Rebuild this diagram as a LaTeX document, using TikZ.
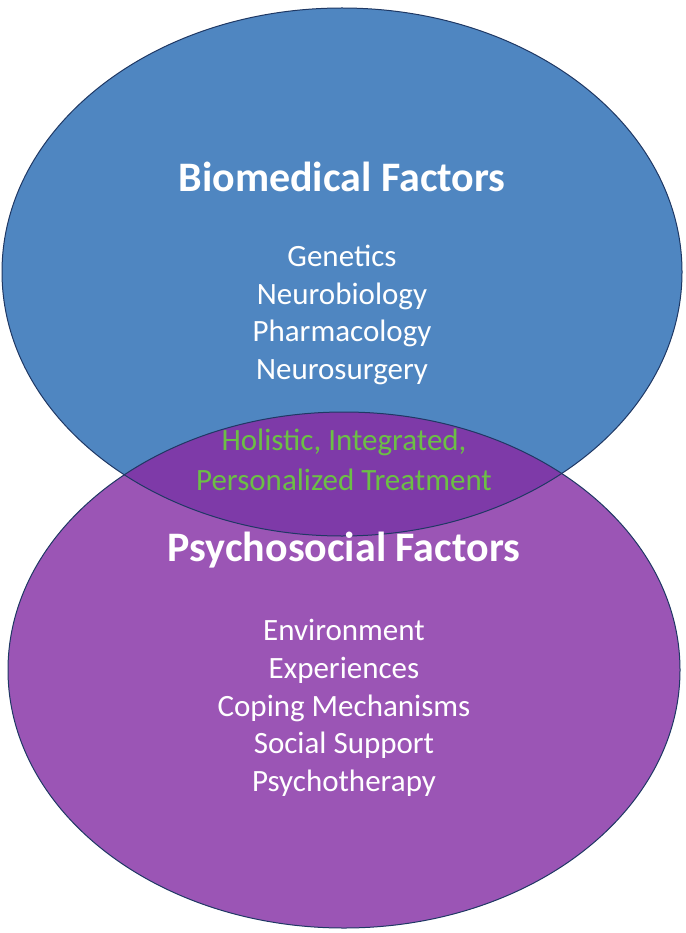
\documentclass[tikz,border=0pt]{standalone}
\usepackage{fontspec}
\setmainfont{Carlito}
\definecolor{bblue}{HTML}{4F86C1}
\definecolor{ppurp}{HTML}{9B55B5}
\definecolor{ovl}{HTML}{7E3AA8}
\definecolor{edge}{HTML}{1F3864}
\definecolor{gtxt}{HTML}{6CBF45}
\begin{document}
\begin{tikzpicture}[x=1pt,y=-1pt,
  title/.style={text=white,font=\fontsize{42}{48}\selectfont\bfseries,anchor=center},
  item/.style={text=white,font=\fontsize{31}{37.8}\selectfont,align=center,anchor=center},
  mid/.style={text=gtxt,font=\fontsize{31}{40}\selectfont,align=center,anchor=center}]
\useasboundingbox (0,0) rectangle (685,933);
\fill[bblue] (342,272) ellipse [x radius=340,y radius=264];
\fill[ppurp] (344,670) ellipse [x radius=336,y radius=258];
\begin{scope}
\clip (342,272) ellipse [x radius=340,y radius=264];
\fill[ovl] (344,670) ellipse [x radius=336,y radius=258];
\end{scope}
\draw[edge,line width=1pt] (344,670) ellipse [x radius=336,y radius=258];
\draw[edge,line width=1pt] (342,272) ellipse [x radius=340,y radius=264];
\node[title] (bt) at (342,177) {Biomedical Factors};
\node[item] (bi) at (342,315) {Genetics\\Neurobiology\\Pharmacology\\Neurosurgery};
\node[mid] (m) at (344,460) {Holistic, Integrated,\\Personalized Treatment};
\node[title] (pt) at (344,550) {Psychosocial Factors};
\node[item] (pi) at (344,708) {Environment\\Experiences\\Coping Mechanisms\\Social Support\\Psychotherapy};
\end{tikzpicture}
\end{document}
